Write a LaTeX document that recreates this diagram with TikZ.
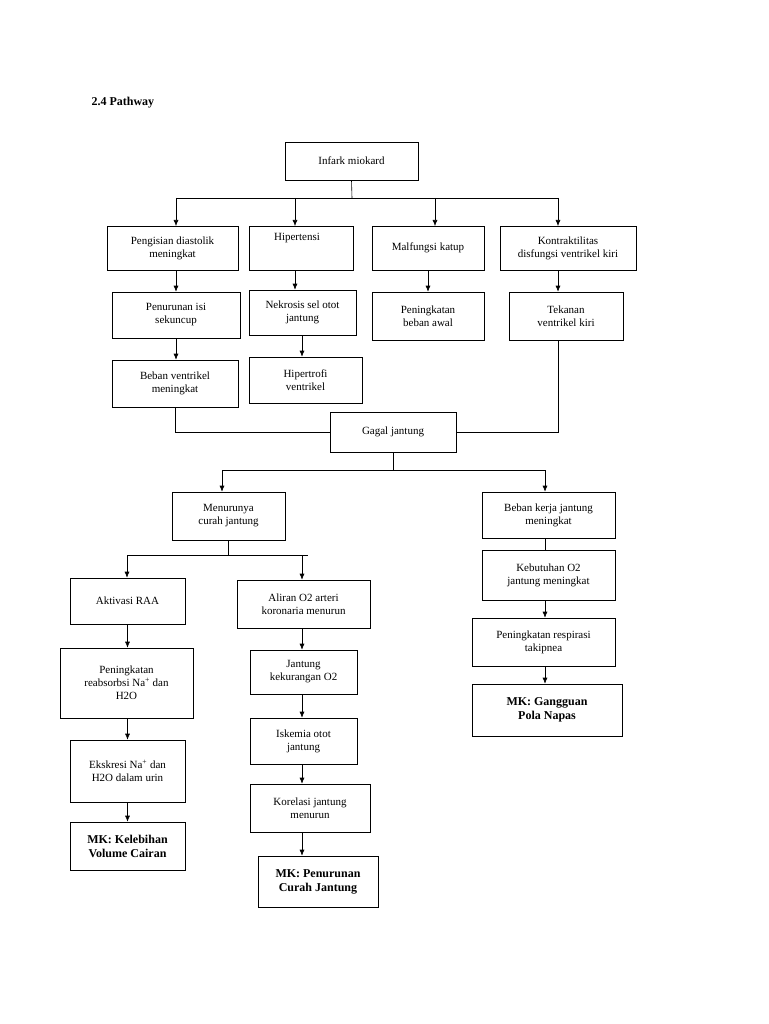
\documentclass[tikz,border=0pt]{standalone}
\usepackage{fontspec}
\setmainfont{Liberation Serif}
\usetikzlibrary{arrows.meta}
\begin{document}
\begin{tikzpicture}[x=1pt,y=-1pt,
  bx/.style={draw,line width=0.6pt,align=center,inner sep=2pt,font=\fontsize{11}{13}\selectfont},
  mk/.style={bx,font=\fontsize{12}{14}\selectfont\bfseries},
  arr/.style={-{Latex[length=6pt,width=5pt]},line width=0.6pt},
  ln/.style={line width=0.6pt}]
\useasboundingbox (0,0) rectangle (768,1024);
\node[font=\fontsize{12}{14}\selectfont\bfseries,anchor=west] (title) at (88,103) {2.4 Pathway};
\newcommand\B[6][bx]{\node[#1,minimum width=#5pt,minimum height=#6pt] (#2) at (#3,#4)}
\B{inf}{351.5}{161}{133}{38}{Infark miokard};
\B{peng}{172.5}{248}{131}{44}{Pengisian diastolik\\meningkat};
\B{hip}{301}{248}{104}{44}{};
\node[font=\fontsize{11}{13}\selectfont,anchor=north] (hipt0) at (297,230) {Hipertensi};
\B{mal}{428}{248}{112}{44}{Malfungsi katup};
\B{kon}{568}{248}{136}{44}{Kontraktilitas\\disfungsi ventrikel kiri};
\B{pen}{176}{315}{128}{46}{Penurunan isi\\sekuncup};
\B{nek}{302.5}{312.5}{107}{45}{Nekrosis sel otot\\jantung};
\B{pba}{428}{316}{112}{48}{Peningkatan\\beban awal};
\B{tek}{566}{316}{114}{48}{Tekanan\\ventrikel kiri};
\B{hipt}{305.5}{380}{113}{46}{Hipertrofi\\ventrikel};
\B{bv}{175}{383.5}{126}{47}{Beban ventrikel\\meningkat};
\B{gj}{393}{432}{126}{40}{Gagal jantung};
\B{mcj}{228.5}{516}{113}{48}{Menurunya\\curah jantung};
\B{bkj}{548.5}{515}{133}{46}{Beban kerja jantung\\meningkat};
\B{aktiv}{127.5}{601}{115}{46}{Aktivasi RAA};
\B{alir}{303.5}{604}{133}{48}{Aliran O2 arteri\\koronaria menurun};
\B{keb}{548.5}{575}{133}{50}{Kebutuhan O2\\jantung meningkat};
\B{resp}{543.5}{642}{143}{48}{Peningkatan respirasi\\takipnea};
\B[mk]{mkg}{547}{710}{150}{52}{MK: Gangguan\\Pola Napas};
\B{reab}{126.5}{683}{133}{70}{Peningkatan\\reabsorbsi Na\textsuperscript{+} dan\\H2O};
\B{jk}{303.5}{672}{107}{44}{Jantung\\kekurangan O2};
\B{isk}{303.5}{741}{107}{46}{Iskemia otot\\jantung};
\B{eks}{127.5}{771}{115}{62}{Ekskresi Na\textsuperscript{+} dan\\H2O dalam urin};
\B{kor}{310}{808}{120}{48}{Korelasi jantung\\menurun};
\B[mk]{mkv}{127.5}{846}{115}{48}{MK: Kelebihan\\Volume Cairan};
\B[mk]{mkp}{318}{881.5}{120}{51}{MK: Penurunan\\Curah Jantung};
% top bus
\coordinate (b1) at (352,198);
\draw[ln] (inf.south) -- (b1);
\draw[ln] (176,198) -- (558,198);
\foreach \x in {176,295,435,558} \draw[arr] (\x,198) -- (\x,226);
\draw[arr] (peng.south -| pen.north) -- (pen.north);
\draw[arr] (pen.south) -- (pen.south |- bv.north);
\draw[arr] (295,270) -- (nek.north -| 295,0);
\draw[arr] (nek.south -| 302,0) -- (hipt.north -| 302,0);
\draw[arr] (mal.south) -- (mal.south |- pba.north);
\draw[arr] (kon.south -| 558,0) -- (tek.north -| 558,0);
\draw[ln] (bv.south) |- (gj.west);
\draw[ln] (tek.south -| 558,0) |- (gj.east);
% second bus
\draw[ln] (gj.south) -- (393,470);
\draw[ln] (222,470) -- (545,470);
\draw[arr] (222,470) -- (mcj.north -| 222,0);
\draw[arr] (545,470) -- (bkj.north -| 545,0);
\draw[ln] (bkj.south -| 545,0) -- (keb.north -| 545,0);
\draw[arr] (keb.south -| 545,0) -- (resp.north -| 545,0);
\draw[arr] (resp.south -| 545,0) -- (mkg.north -| 545,0);
% third bus
\draw[ln] (mcj.south) -- (228.5,555);
\draw[ln] (127,555) -- (308,555);
\draw[arr] (127,555) -- (aktiv.north -| 127,0);
\draw[arr] (302,555) -- (alir.north -| 302,0);
\draw[arr] (aktiv.south) -- (aktiv.south |- reab.north);
\draw[arr] (reab.south -| aktiv.south) -- (eks.north);
\draw[arr] (eks.south) -- (mkv.north);
\draw[arr] (alir.south -| 302,0) -- (jk.north -| 302,0);
\draw[arr] (jk.south -| 302,0) -- (isk.north -| 302,0);
\draw[arr] (isk.south -| 302,0) -- (kor.north -| 302,0);
\draw[arr] (kor.south -| 302,0) -- (mkp.north -| 302,0);
\end{tikzpicture}
\end{document}
